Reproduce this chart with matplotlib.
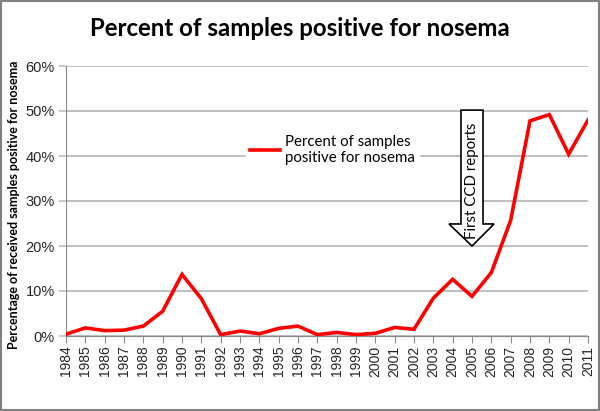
import matplotlib
matplotlib.use("Agg")
import matplotlib.pyplot as plt
from matplotlib.patches import Polygon, Rectangle
from matplotlib.ticker import PercentFormatter

years = list(range(1984, 2012))
percent_positive = [0.4, 1.8, 1.2, 1.3, 2.2, 5.5, 13.7, 8.3, 0.3, 1.1, 0.5, 1.7, 2.2, 0.3,
                    0.8, 0.3, 0.6, 1.9, 1.5, 8.4, 12.6, 8.8, 14.1, 25.7, 47.8, 49.2, 40.4, 48.0]
yticks = [0, 10, 20, 30, 40, 50, 60]
title = "Percent of samples positive for nosema"
ylabel = "Percentage of received samples positive for nosema"
series_label = "Percent of samples\npositive for nosema"
arrow_text = "First CCD reports"

fig = plt.figure(figsize=(6, 4.11), dpi=100)
ax = fig.add_axes([66/600, 1-336/411, (588-66)/600, (336-66)/411])

ax.plot(years, percent_positive, color="#FF0000", lw=2.6, label=series_label, zorder=3,
        solid_joinstyle="miter")
ax.set_xlim(1984, 2011)
ax.set_ylim(0, 60)
ax.set_yticks(yticks)
ax.yaxis.set_major_formatter(PercentFormatter(decimals=0))
ax.set_xticks(years)
ax.set_xticklabels([str(y) for y in years], rotation=90, fontsize=10,
                   family="Liberation Sans", color="#262626")
for lab in ax.get_yticklabels():
    lab.set_fontsize(10.5)
    lab.set_family("Liberation Sans")
    lab.set_color("#262626")
ax.grid(axis="y", color="#BFBFBF", lw=1.4)
ax.set_axisbelow(True)
for s in ["top", "right"]:
    ax.spines[s].set_visible(False)
ax.spines["left"].set_color("#888888")
ax.spines["bottom"].set_color("#888888")
ax.tick_params(axis="y", length=5, color="#BFBFBF", width=1.2, pad=3)
ax.tick_params(axis="x", length=5, color="#888888", pad=2)

fig.text(0.5, 1-28/411, title, ha="center", va="center", fontsize=17.3,
         fontweight="bold", family="Lato")
fig.text(14/600, 1-205/411, ylabel, rotation=90, ha="center", va="center",
         fontsize=9, fontweight="bold", family="Lato")

leg = ax.legend(loc="upper left", bbox_to_anchor=(0.33, 0.79), frameon=True,
                prop={"family": "Lato", "size": 10.8}, handlelength=2.0,
                handletextpad=0.3, borderpad=0.3, labelspacing=0.15)
leg.get_frame().set_edgecolor("white")
leg.get_frame().set_facecolor("white")
leg.get_frame().set_alpha(1)

# Block arrow
xl, xr = 2004.43, 2005.57
hl, hr = 2003.81, 2006.14
top, neck, tip = 50.2, 24.9, 20.0
arrow = Polygon([(xl, top), (xr, top), (xr, neck), (hr, neck), (2005, tip),
                 (hl, neck), (xl, neck)], closed=True, facecolor="white",
                edgecolor="black", lw=1.2, zorder=4)
ax.add_patch(arrow)
ax.text(2005, 34.5, arrow_text, rotation=90, ha="center", va="center",
        fontsize=10.8, family="Lato", zorder=5)

fig.patches.append(Rectangle((0.002, 0.003), 0.996, 0.994, transform=fig.transFigure,
                             fill=False, edgecolor="#808080", lw=1.5))
fig.savefig("out.png", dpi=100)
